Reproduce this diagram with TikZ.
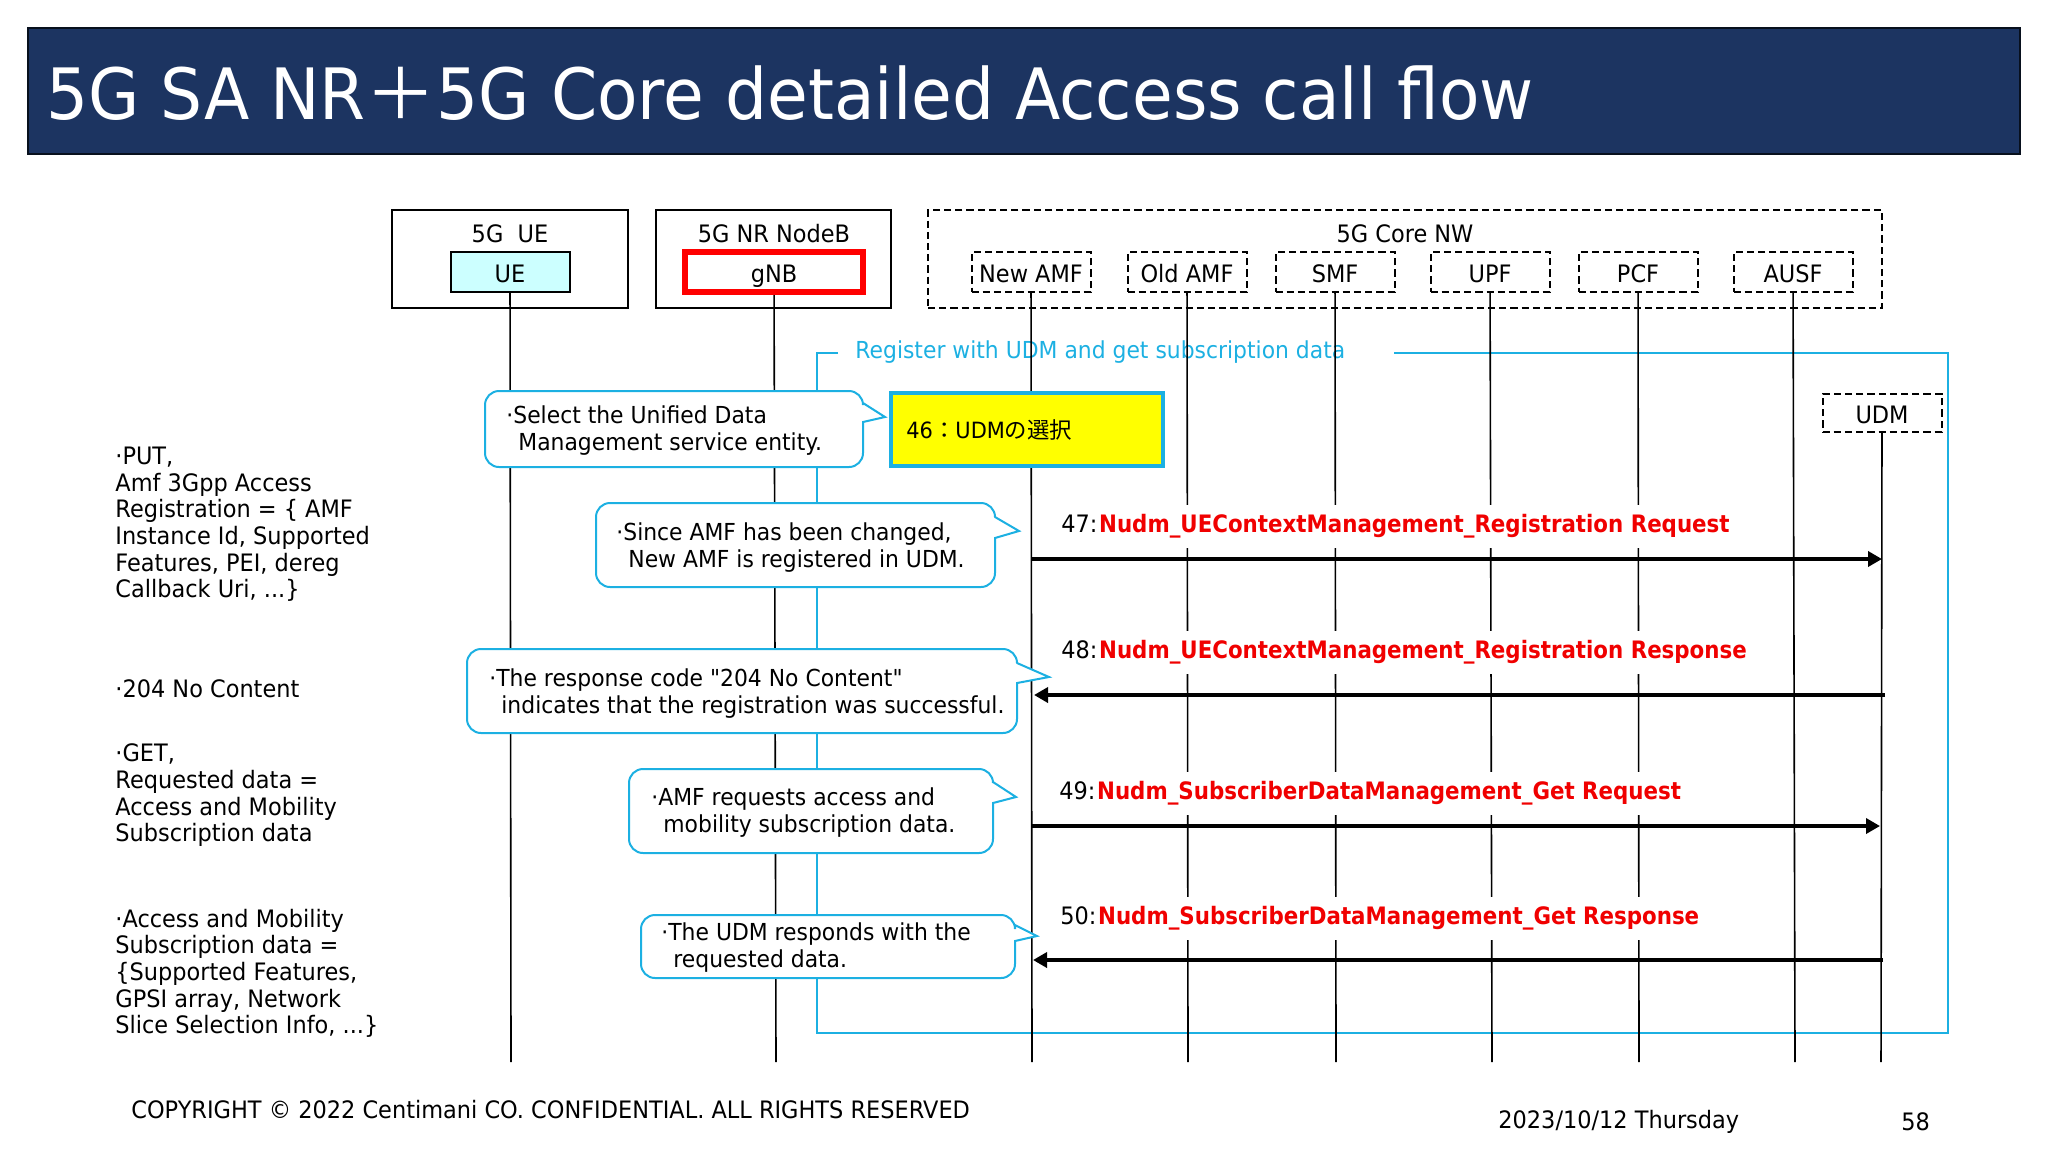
\documentclass[tikz,border=0pt]{standalone}
\usepackage{fontspec}
\setmainfont[FakeStretch=0.935,BoldFeatures={FakeStretch=0.89}]{DejaVu Sans}
\newfontfamily\cjk{Noto Sans CJK JP}
\newfontfamily\quotefont[FakeStretch=0.935]{DejaVu Sans}
\usetikzlibrary{arrows.meta,positioning}
\definecolor{titlenavy}{HTML}{1C3461}
\definecolor{framecyan}{HTML}{1CB0E2}
\definecolor{uecyan}{HTML}{CCFFFF}
\definecolor{msgred}{HTML}{F00000}
\definecolor{stepyellow}{HTML}{FFFF00}
\definecolor{gnbred}{HTML}{FF0000}
\tikzset{
	txt/.style={inner sep=0pt, font=\fontsize{12}{13.35}\selectfont, align=left},
	bubbletxt/.style={txt, anchor=west, font=\fontsize{11.7}{13.5}\selectfont},
	outerbox/.style={draw=black, line width=1pt, minimum height=48.8pt},
	entity/.style={draw=black, line width=1pt, minimum width=59.5pt, minimum height=20pt, inner sep=0pt, text height=10.2pt, text depth=0pt, font=\fontsize{12}{13.5}\selectfont},
	dashbox/.style={dash pattern=on 3.6pt off 2pt},
	life/.style={draw=black, line width=0.8pt},
	msg/.style={fill=white, inner xsep=0pt, inner ysep=0pt, minimum height=21.5pt, anchor=west, font=\fontsize{12}{13.5}\selectfont},
	call/.style={draw=black, line width=2.2pt, -{Triangle[length=7pt,width=7.5pt]}},
	bubbleline/.style={draw=framecyan, fill=white, line width=1pt, line cap=round},
}
\newcommand{\bubble}[9]{
	\coordinate (#1) at (#6,#7);
	\path[bubbleline] (#4,#8) -- (#6,#7) -- (#4,#9) [rounded corners=7pt] -- (#4,#5) -- (#2,#5) -- (#2,#3) -- (#4,#3) -- (#4,#8);
}
\newcommand{\nudm}[2]{#1:\hspace{0.8pt}\textcolor{msgred}{\textbf{#2}}}
\begin{document}
\begin{tikzpicture}[x=0.5pt, y=-0.5pt]
	\useasboundingbox (0,0) rectangle (2048,1152);

	% title
	\node[draw=black!70!titlenavy, fill=titlenavy, line width=1pt, minimum width=996pt, minimum height=63pt, inner sep=0pt] (title) at (1024,91) {};
	\node[anchor=west, inner sep=0pt, text=white, font=\fontsize{35.4}{40}\selectfont] (titletext) at (46,93) {5G SA NR{\cjk ＋}5G Core detailed Access call flow};

	% frame behind the lifelines
	\coordinate (f1) at (838,353);
	\coordinate (f2) at (817,353);
	\coordinate (f3) at (817,1033);
	\coordinate (f4) at (1948,1033);
	\coordinate (f5) at (1948,353);
	\coordinate (f6) at (1394,353);
	\draw[draw=framecyan, line width=1pt] (f1) -- (f2) -- (f3) -- (f4) -- (f5) -- (f6);
	\node[txt, anchor=west, text=framecyan, font=\fontsize{11.7}{13.5}\selectfont] (framelabel) at (855,352.5) {Register with UDM and get subscription data};

	% boxes
	\node[outerbox, minimum width=118pt] (ueouter) at (509.5,259) {};
	\node[outerbox, minimum width=117.5pt] (gnbouter) at (773.5,259) {};
	\node[outerbox, dashbox, minimum width=477pt] (coreouter) at (1405,259) {};
	\node[txt] (uelabel) at (510,233.5) {5G\ \ UE};
	\node[txt] (gnblabel) at (774,233.5) {5G NR NodeB};
	\node[txt] (corelabel) at (1405,233.5) {5G Core NW};
	\node[entity, fill=uecyan] (ue) at (510,272) {UE};
	\node[entity, draw=gnbred, line width=3pt, minimum width=89pt] (gnb) at (774,272) {gNB};
	\node[entity, dashbox] (newamf) at (1031,272) {New AMF};
	\node[entity, dashbox] (oldamf) at (1187,272) {Old AMF};
	\node[entity, dashbox] (smf) at (1335,272) {SMF};
	\node[entity, dashbox] (upf) at (1490,272) {UPF};
	\node[entity, dashbox] (pcf) at (1638,272) {PCF};
	\node[entity, dashbox] (ausf) at (1793,272) {AUSF};
	\node[entity, dashbox, minimum height=19pt] (udm) at (1882,413) {UDM};

	% lifelines
	\coordinate (ueend) at (511,1062);
	\coordinate (gnbend) at (776,1062);
	\coordinate (newamfend) at (1032,1062);
	\coordinate (oldamfend) at (1188,1062);
	\coordinate (smfend) at (1336,1062);
	\coordinate (upfend) at (1492,1062);
	\coordinate (pcfend) at (1639,1062);
	\coordinate (ausfend) at (1795,1062);
	\coordinate (udmend) at (1881,1062);
	\draw[life] (ue) -- (ueend);
	\draw[life] (gnb) -- (gnbend);
	\draw[life] (newamf) -- (newamfend);
	\draw[life] (oldamf) -- (oldamfend);
	\draw[life] (smf) -- (smfend);
	\draw[life] (upf) -- (upfend);
	\draw[life] (pcf) -- (pcfend);
	\draw[life] (ausf) -- (ausfend);
	\draw[life] (udm) -- (udmend);

	% messages
	\node[msg] (m47) at (1061,526) {\nudm{47}{Nudm\_UEContextManagement\_Registration Request}};
	\node[msg] (m48) at (1061,652) {\nudm{48}{Nudm\_UEContextManagement\_Registration Response}};
	\node[msg] (m49) at (1059,793) {\nudm{49}{Nudm\_SubscriberDataManagement\_Get Request}};
	\node[msg] (m50) at (1060,918) {\nudm{50}{Nudm\_SubscriberDataManagement\_Get Response}};

	\coordinate (a47s) at (1031,559);
	\coordinate (a47e) at (1882,559);
	\coordinate (a48s) at (1885,695);
	\coordinate (a48e) at (1034,695);
	\coordinate (a49s) at (1031,826);
	\coordinate (a49e) at (1880,826);
	\coordinate (a50s) at (1883,960);
	\coordinate (a50e) at (1033,960);
	\draw[call] (a47s) -- (a47e);
	\draw[call] (a48s) -- (a48e);
	\draw[call] (a49s) -- (a49e);
	\draw[call] (a50s) -- (a50e);

	% speech bubbles
	\bubble{c1}{485}{391}{863}{467}{885}{417}{403}{422}
	\node[bubbletxt] (c1text) at (506,431) {·Select the Unified Data\\\hspace{6pt}Management service entity.};
	\bubble{c2}{596}{503}{995}{587}{1019}{531}{517}{538}
	\node[bubbletxt] (c2text) at (616,547.5) {·Since AMF has been changed,\\\hspace{6pt}New AMF is registered in UDM.};
	\bubble{c3}{467}{649}{1017}{733}{1049}{677}{663}{683}
	\node[bubbletxt] (c3text) at (489,693.5) {·The response code {\quotefont"}204 No Content{\quotefont"}\\\hspace{6pt}indicates that the registration was successful.};
	\bubble{c4}{629}{769}{993}{853}{1016}{797}{782}{803}
	\node[bubbletxt] (c4text) at (651,813) {·AMF requests access and\\\hspace{6pt}mobility subscription data.};
	\bubble{c5}{641}{915}{1015}{978}{1037}{936}{925}{941}
	\node[bubbletxt] (c5text) at (661,948) {·The UDM responds with the\\\hspace{6pt}requested data.};

	% step 46
	\node[draw=framecyan, fill=stepyellow, line width=2pt, minimum width=136pt, minimum height=36.5pt, inner sep=0pt] (s46) at (1027,429) {};
	\node[txt, anchor=west, font=\fontsize{11.2}{13.5}\selectfont] (s46text) at (906,430) {46{\cjk ：}UDM{\cjk の選択}};

	% notes on the left
	\node[txt, anchor=north west] (n1) at (115,446.5) {·PUT,\\Amf 3Gpp Access\\Registration = \{ AMF\\Instance Id, Supported\\Features, PEI, dereg\\Callback Uri, ...\}};
	\node[txt, anchor=west] (n2) at (115,689) {·204 No Content};
	\node[txt, anchor=north west] (n3) at (115,743.5) {·GET,\\Requested data =\\Access and Mobility\\Subscription data};
	\node[txt, anchor=north west] (n4) at (115,908.5) {·Access and Mobility\\Subscription data =\\\{Supported Features,\\GPSI array, Network\\Slice Selection Info, ...\}};

	% footer
	\node[txt, anchor=west] (copy) at (131,1110) {COPYRIGHT © 2022 Centimani CO. CONFIDENTIAL. ALL RIGHTS RESERVED};
	\node[txt, anchor=west] (date) at (1498,1121.5) {2023/10/12 Thursday};
	\node[txt, anchor=west] (page) at (1901,1121.5) {58};
\end{tikzpicture}
\end{document}
